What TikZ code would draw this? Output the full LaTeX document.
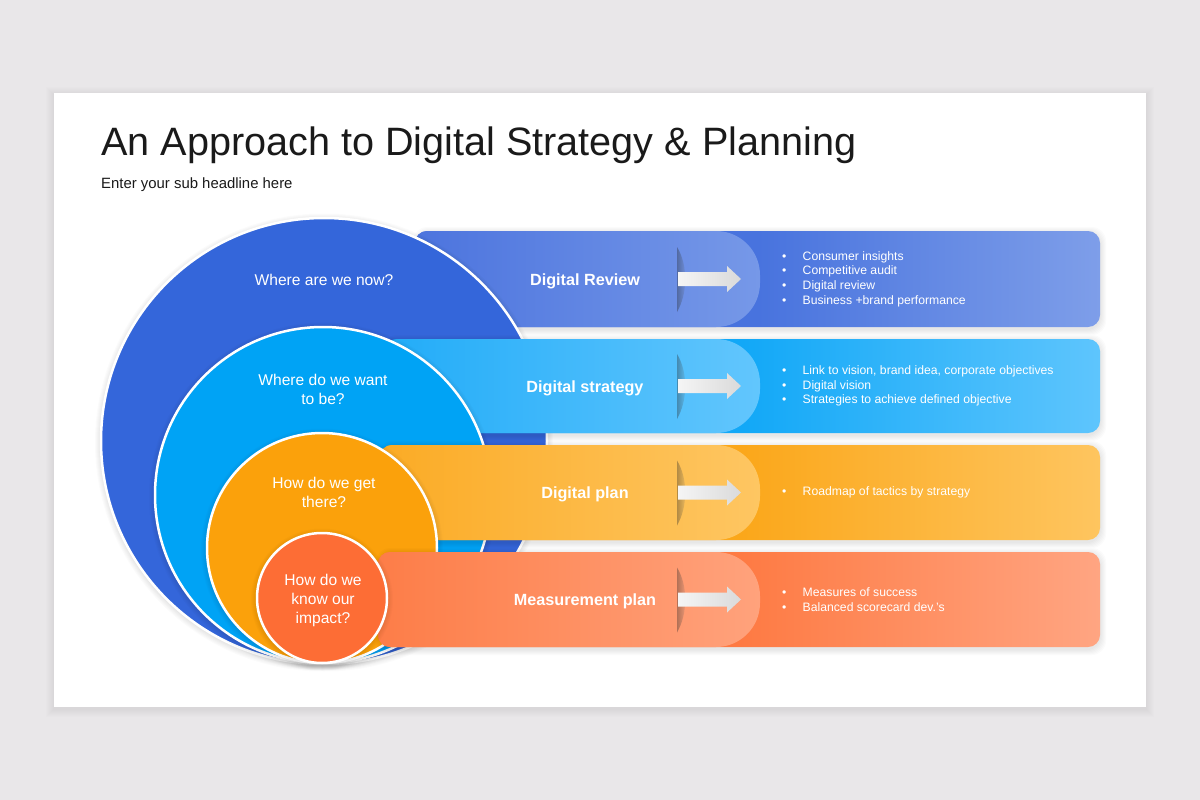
\documentclass[tikz,border=0pt]{standalone}
\usepackage{fontspec}
\setmainfont{Liberation Sans}
\definecolor{bgc}{HTML}{E9E7E9}
\definecolor{titc}{HTML}{1A1A1A}
\definecolor{cA}{HTML}{3466DA}
\definecolor{cB}{HTML}{00A3F5}
\definecolor{cC}{HTML}{FBA10B}
\definecolor{cD}{HTML}{FD6D35}
\definecolor{barAL}{HTML}{4873DE}
\definecolor{barAR}{HTML}{7E9EE9}
\definecolor{tabAL}{HTML}{4C74DE}
\definecolor{tabAR}{HTML}{7698E8}
\definecolor{barBL}{HTML}{12A8F7}
\definecolor{barBR}{HTML}{5EC5FD}
\definecolor{tabBL}{HTML}{22ACF8}
\definecolor{tabBR}{HTML}{62C6FD}
\definecolor{barCL}{HTML}{FBA71A}
\definecolor{barCR}{HTML}{FEC55F}
\definecolor{tabCL}{HTML}{FBAB25}
\definecolor{tabCR}{HTML}{FEC662}
\definecolor{barDL}{HTML}{FE7A43}
\definecolor{barDR}{HTML}{FFA582}
\definecolor{tabDL}{HTML}{FD7D48}
\definecolor{tabDR}{HTML}{FFA27C}
\definecolor{arrL}{HTML}{F5F5F5}
\definecolor{arrR}{HTML}{DADADA}
% #1 left x, #2 top, #3 bottom, #4 bar left col, #5 bar right col, #6 tab left col, #7 tab right col, #8 centre y
\newcommand\stagebar[8]{%
  \foreach \i in {1,...,6}{\fill[black,fill opacity=0.014,rounded corners=14pt] ({#1+4-\i},{#2-\i+2}) rectangle ({1100+\i},{#3+\i+2});}
  \shade[rounded corners=12pt,left color=#4,right color=#5,middle color=#4] (#1,#2) rectangle (1100,#3);
  \shade[left color=#6,right color=#7] (#1,#8) -- (#1,{#2+12}) arc[start angle=180,end angle=90,radius=12pt]
     -- (716,#2) arc[start angle=90,end angle=0,radius=44pt] -- (760,{#3-44})
     arc[start angle=0,end angle=-90,radius=44pt] -- ({#1+12},#3) arc[start angle=270,end angle=180,radius=12pt] -- cycle;
  \shade[left color=#7!70!black,right color=#7] (677,{#8-32}) .. controls (688,{#8-14}) and (688,{#8+14}) .. (677,{#8+33}) -- cycle;
  \shade[left color=arrL,right color=arrR] (678,{#8-7}) -- (727,{#8-7}) -- (727,{#8-13}) -- (741,#8)
     -- (727,{#8+13}) -- (727,{#8+7}) -- (678,{#8+7}) -- cycle;
}
% #1 cx, #2 cy, #3 r, #4 colour
\newcommand\stagecircle[4]{%
  \foreach \i in {1,...,6}{\fill[black,fill opacity=0.015] (#1,{#2+1.5}) circle[radius={#3+\i}];}
  \fill[#4] (#1,#2) circle[radius=#3];
  \draw[white,line width=2.5pt] (#1,#2) circle[radius=#3];
}
\newcommand\bitem[1]{\makebox[20.5pt][l]{\textbullet}#1}
\begin{document}
\begin{tikzpicture}[x=1pt,y=-1pt,
  bul/.style={font=\fontsize{12.2}{14.7}\selectfont,text=white,align=left,anchor=west,inner sep=0pt},
  ctext/.style={font=\fontsize{15.6}{18.6}\selectfont,text=white,align=center,inner sep=0pt},
  btitle/.style={font=\bfseries\fontsize{16.2}{19}\selectfont,text=white,anchor=base,inner sep=0pt}]
\useasboundingbox (0,0) rectangle (1200,800);
\fill[bgc] (0,0) rectangle (1200,800);
% slide
\foreach \i in {1,...,8}{\fill[black,fill opacity=0.006] ({54-\i},{93-\i+2}) rectangle ({1146+\i},{707+\i+2});}
\fill[white] (54,93) rectangle (1146,707);
% titles
\node[anchor=base west,inner sep=0pt,text=titc,font=\fontsize{39.6}{44}\selectfont] (title) at (101,155) {An Approach to Digital Strategy \& Planning};
\node[anchor=base west,inner sep=0pt,text=titc,font=\fontsize{14.9}{17}\selectfont] (sub) at (101,188) {Enter your sub headline here};
% stages
\stagebar{415}{231}{327}{barAL}{barAR}{tabAL}{tabAR}{279}
\stagecircle{324}{441}{223}{cA}
\stagebar{385}{339}{433}{barBL}{barBR}{tabBL}{tabBR}{386}
\stagecircle{323}{495}{168}{cB}
\stagebar{380}{445}{540}{barCL}{barCR}{tabCL}{tabCR}{492.5}
\stagecircle{322}{548}{115}{cC}
\stagebar{378}{552}{647}{barDL}{barDR}{tabDL}{tabDR}{599.5}
\stagecircle{322}{598}{65}{cD}
% circle texts
\node[ctext] (qA) at (324,280) {Where are we now?};
\node[ctext] (qB) at (323,389.3) {Where do we want\\to be?};
\node[ctext] (qC) at (324,492.3) {How do we get\\there?};
\node[ctext] (qD) at (323,600.5) {How do we\\know our\\impact?};
% bar titles
\node[btitle] (tA) at (585,285) {Digital Review};
\node[btitle] (tB) at (585,392.3) {Digital strategy};
\node[btitle] (tC) at (585,498.3) {Digital plan};
\node[btitle] (tD) at (585,605.7) {Measurement plan};
% bullet lists
\node[bul] (lA) at (782,279) {\bitem{Consumer insights}\\\bitem{Competitive audit}\\\bitem{Digital review}\\\bitem{Business +brand performance}};
\node[bul] (lB) at (782,386) {\bitem{Link to vision, brand idea, corporate objectives}\\\bitem{Digital vision}\\\bitem{Strategies to achieve defined objective}};
\node[bul] (lC) at (782,492.5) {\bitem{Roadmap of tactics by strategy}};
\node[bul] (lD) at (782,599.5) {\bitem{Measures of success}\\\bitem{Balanced scorecard dev.'s}};
\end{tikzpicture}
\end{document}
